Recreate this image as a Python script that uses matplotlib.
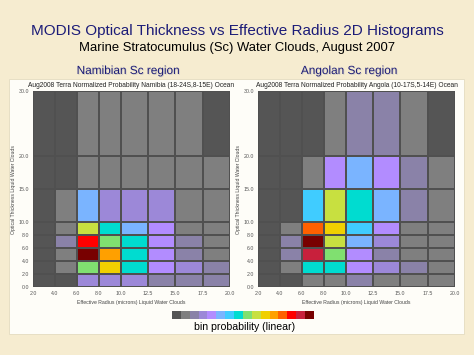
import numpy as np
import matplotlib.pyplot as plt
from matplotlib.colors import ListedColormap, BoundaryNorm
from matplotlib.patches import Rectangle
import matplotlib.patheffects as pe

plt.rcParams['font.family'] = ['Liberation Sans', 'DejaVu Sans']

# bin edges (effective radius, optical thickness)
re_edges = [2.0, 4.0, 6.0, 8.0, 10.0, 12.5, 15.0, 17.5, 20.0]
tau_edges = [0.0, 2.0, 4.0, 6.0, 8.0, 10.0, 15.0, 20.0, 30.0]

# colour classes of the "bin probability (linear)" scale
colors = ['#555555', '#7f7f7f', '#8a82a8', '#9c88d8', '#b28cff', '#7ab4ff',
          '#40ccff', '#00dcd0', '#80e070', '#c8e040', '#f0d000', '#ffa000',
          '#ff6000', '#ff0000', '#c8203c', '#780000']

# probability class per bin, rows from tau 0-2 up to 20-30
namibia = [
    [0, 0, 3, 3, 3, 2, 2, 2],
    [0, 1, 8, 10, 7, 4, 3, 2],
    [0, 1, 15, 11, 7, 4, 2, 1],
    [0, 2, 13, 8, 7, 4, 2, 1],
    [0, 1, 9, 7, 5, 4, 1, 1],
    [0, 1, 5, 3, 3, 3, 1, 1],
    [0, 0, 1, 1, 1, 1, 1, 1],
    [0, 0, 1, 1, 1, 1, 1, 0],
]
angola = [
    [0, 0, 1, 1, 2, 1, 1, 1],
    [0, 1, 7, 7, 4, 3, 2, 1],
    [0, 2, 14, 8, 4, 2, 1, 1],
    [0, 2, 15, 9, 5, 3, 1, 1],
    [0, 1, 12, 10, 6, 4, 1, 1],
    [0, 0, 6, 9, 7, 5, 2, 1],
    [0, 0, 1, 4, 5, 4, 2, 1],
    [0, 0, 0, 1, 2, 2, 1, 0],
]

titles = ['Aug2008 Terra Normalized Probability Namibia (18-24S,8-15E) Ocean',
          'Aug2008 Terra Normalized Probability Angola (10-17S,5-14E) Ocean']
regions = ['Namibian Sc region', 'Angolan Sc region']

cmap = ListedColormap(colors)
norm = BoundaryNorm(np.arange(len(colors) + 1) - 0.5, cmap.N)

fig = plt.figure(figsize=(4.74, 3.55), dpi=100)
fig.patch.set_facecolor('#f6ecd0')
fig.patches.append(Rectangle((9 / 474, 1 - 334 / 355), 455 / 474, 255 / 355,
                             transform=fig.transFigure, facecolor='#fefdf8',
                             edgecolor='#e4dcc0', lw=0.6, zorder=-5))

navy = '#1c1c78'
fig.text(0.5, 1 - 31 / 355, 'MODIS Optical Thickness vs Effective Radius 2D Histograms',
         ha='center', va='center', fontsize=11.0, color=navy)
fig.text(0.5, 1 - 48 / 355, 'Marine Stratocumulus (Sc) Water Clouds, August 2007',
         ha='center', va='center', fontsize=9.4, color='black')

shadow = [pe.withSimplePatchShadow(offset=(0.6, -0.6), shadow_rgbFace='#bbbbbb', alpha=0.6)]
lefts = [33, 258]
label_x = [128, 349]
for i, data in enumerate([namibia, angola]):
    ax = fig.add_axes([lefts[i] / 474, 1 - 287 / 355, 197 / 474, 196 / 355])
    ax.pcolormesh(re_edges, tau_edges, np.array(data), cmap=cmap, norm=norm,
                  edgecolors='#505050', linewidth=0.2)
    ax.set_xlim(2, 20)
    ax.set_ylim(0, 30)
    ax.set_xticks(re_edges)
    ax.set_yticks(tau_edges)
    ax.set_xticklabels(['%.1f' % v for v in re_edges])
    ax.set_yticklabels(['%.1f' % v for v in tau_edges])
    ax.tick_params(labelsize=3.8, colors='#555555', length=0, pad=3)
    for s in ax.spines.values():
        s.set_visible(False)
    ax.set_title(titles[i], fontsize=4.8, pad=3, color='#222222')
    ax.set_xlabel('Effective Radius (microns) Liquid Water Clouds', fontsize=3.7,
                  color='#444444', labelpad=3)
    ax.set_ylabel('Optical Thickness Liquid Water Clouds', fontsize=3.7,
                  color='#444444', labelpad=2)
    fig.text(label_x[i] / 474, 1 - 71 / 355, regions[i], ha='center', va='center',
             fontsize=8.5, color=navy, path_effects=shadow)

cax = fig.add_axes([172 / 474, 1 - 319 / 355, 142 / 474, 8 / 355])
cax.imshow(np.arange(len(colors))[None, :], cmap=cmap, norm=norm, aspect='auto')
cax.set_xticks([])
cax.set_yticks([])
for s in cax.spines.values():
    s.set_visible(False)
fig.text(245 / 474, 1 - 327 / 355, 'bin probability (linear)', ha='center',
         va='center', fontsize=7.6, color='black')

fig.savefig('out.png', dpi=100, facecolor=fig.get_facecolor())
